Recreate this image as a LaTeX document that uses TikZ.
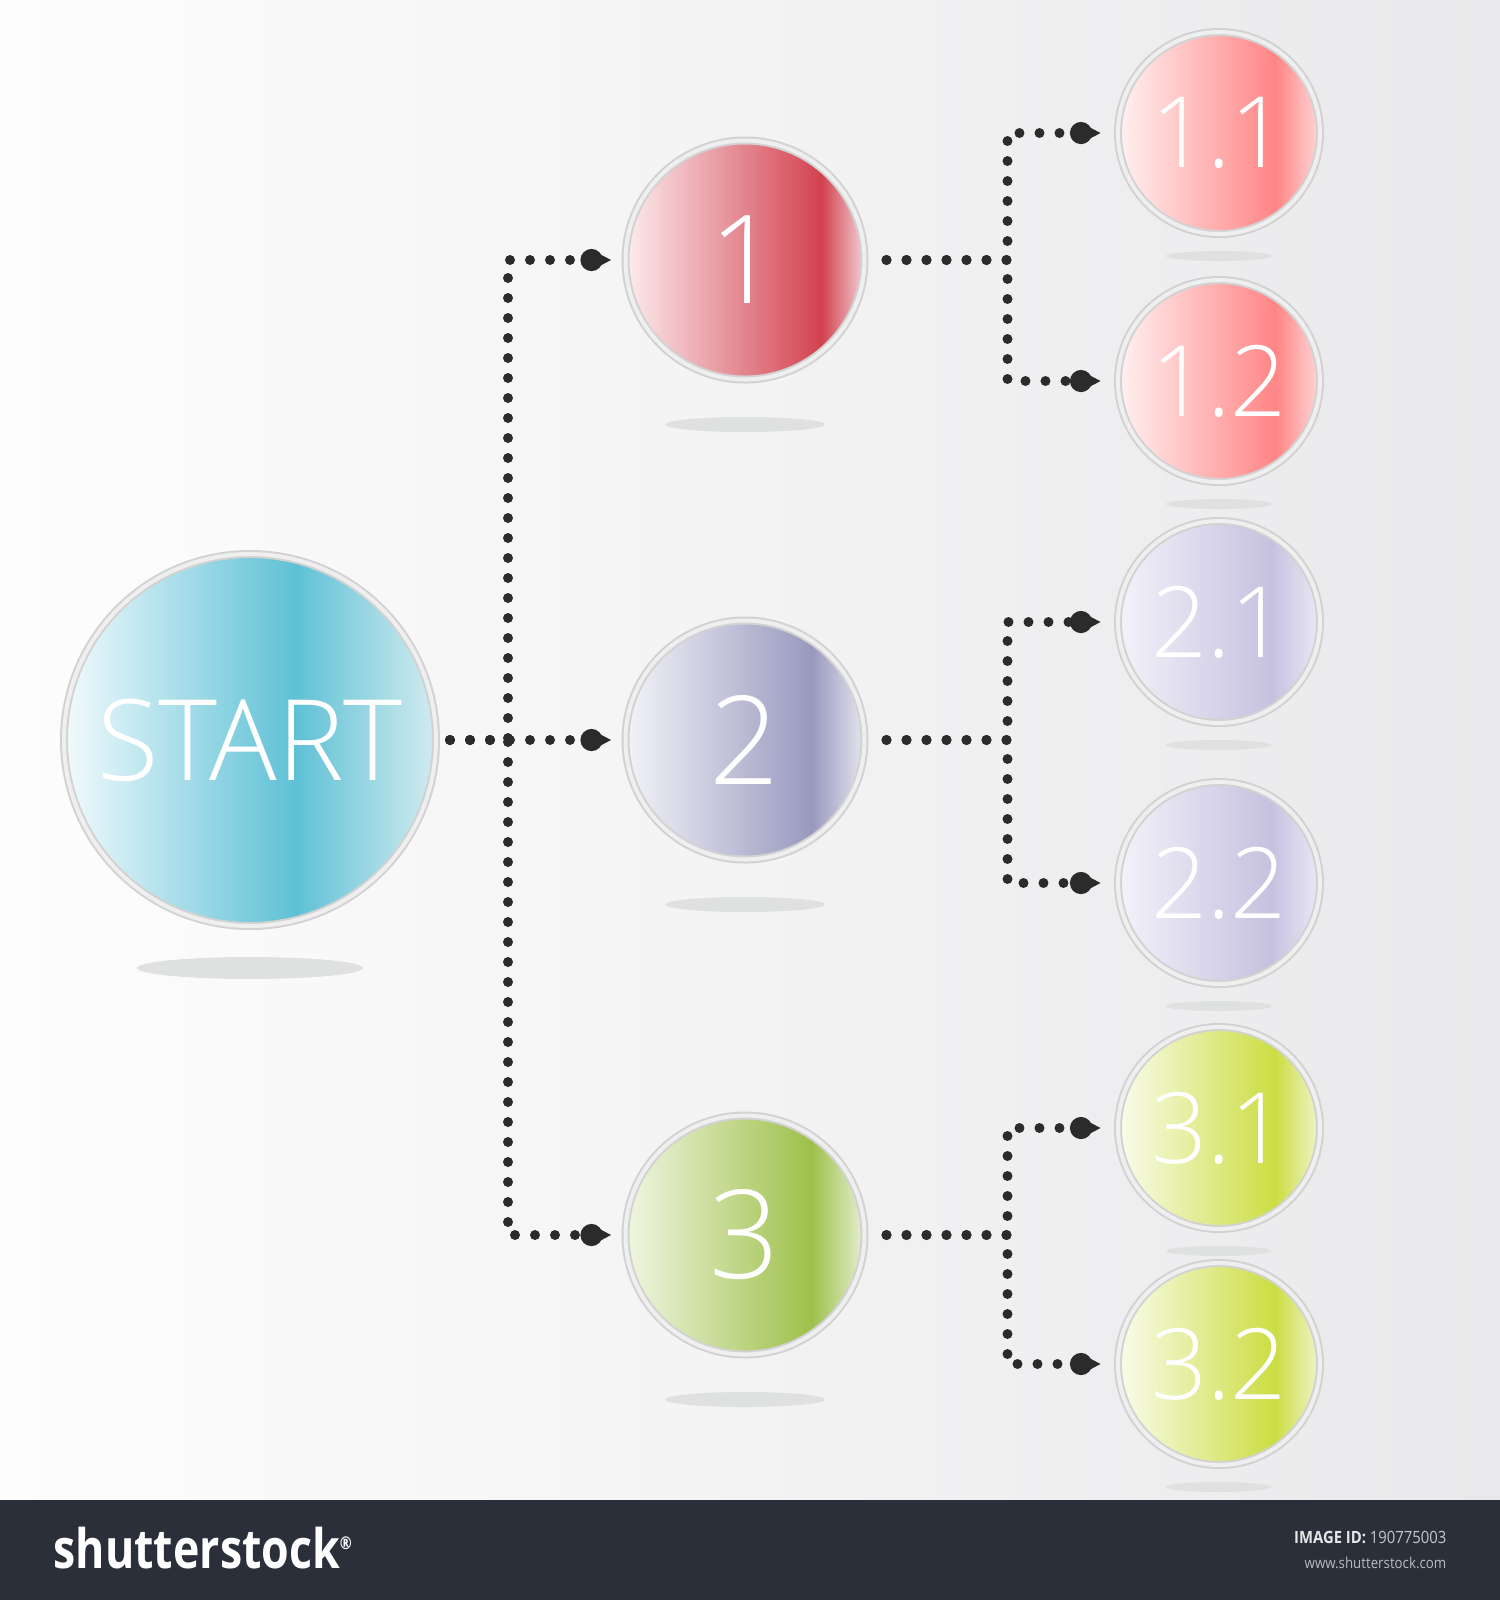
\documentclass[tikz,border=0pt]{standalone}
\usepackage{fontspec}
\setmainfont{Open Sans}
\newfontfamily\thinfont{Open Sans}[UprightFont=* Light]
\usetikzlibrary{arrows.meta}

\definecolor{bgleft}{HTML}{FDFDFD}
\definecolor{bgright}{HTML}{E9E9EB}
\definecolor{barcol}{HTML}{2A2F3A}
\definecolor{ringgray}{HTML}{D2D2D2}
\definecolor{ringlight}{HTML}{EFEFEF}
\definecolor{dotcol}{HTML}{2B2B2B}
\definecolor{shadowgray}{HTML}{DFE1E0}

% name, left, peak, right edge, peak position
\newcommand{\orbshading}[5]{%
  \definecolor{#1A}{HTML}{#2}\definecolor{#1B}{HTML}{#3}\definecolor{#1C}{HTML}{#4}%
  \pgfdeclarehorizontalshading{#1}{100bp}{color(0bp)=(#1A); color(25bp)=(#1A);
    color(#5bp)=(#1B); color(75bp)=(#1C); color(100bp)=(#1C)}}
\orbshading{startsh}{F2FAFC}{5EC1D5}{D2EBF0}{56}
\orbshading{redsh}{FCECEE}{D3414F}{F3D0D4}{66}
\orbshading{pinksh}{FFF2F2}{FF8585}{FDD8D8}{64}
\orbshading{violetsh}{F3F3F8}{9999BF}{E6E6F0}{64}
\orbshading{lilacsh}{F4F2FA}{C6C1DF}{ECE9F5}{63}
\orbshading{greensh}{F0F6E2}{9EC04A}{E6EFD2}{64}
\orbshading{limesh}{FAFCEC}{CBDD42}{F0F5CF}{64}

\begin{document}
\begin{tikzpicture}[x=0.1mm, y=0.1mm,
  orb/.style = {circle, inner sep=0pt, text=white, solid, line cap=butt, draw=ringgray,
    line width=0.2mm, double=ringlight, double distance=0.4mm},
  bigorb/.style = {orb, minimum size=37.2mm, font=\thinfont\fontsize{32}{32}\selectfont},
  midorb/.style = {orb, minimum size=23.9mm, font=\thinfont\fontsize{35}{35}\selectfont},
  leaforb/.style = {orb, minimum size=20.2mm, font=\thinfont\fontsize{28}{28}\selectfont},
  edge from parent/.style = {draw=dotcol, line width=1mm, line cap=round,
    dash pattern=on 0pt off 2mm,
    -{Circle[length=2.2mm,sep=-1.2mm] Triangle[length=2.1mm,width=2mm]}},
  level 1/.style = {level distance=49.5mm, sibling distance=48.7mm,
    edge from parent path={([xshift=1.3mm]\tikzparentnode.east) -- ++(5.8mm,0)
      |- ([xshift=-1.3mm]\tikzchildnode.west)}},
  level 2/.style = {level distance=47.4mm, sibling distance=25mm,
    edge from parent path={([xshift=2.1mm]\tikzparentnode.east) -- ++(12.1mm,0)
      |- ([xshift=-1.6mm]\tikzchildnode.west)}}]

  \fill[left color=bgleft, right color=bgright] (0,0) rectangle (1500,-1500);
  \fill[barcol] (0,-1500) rectangle (1500,-1600);

  \node[bigorb, shading=startsh] (start) at (250,-740) {START} [grow'=right]
    child[yshift=-0.7mm] { node[midorb, shading=redsh] (n1) {1}
      child[yshift=0.2mm] { node[leaforb, shading=pinksh] (n11) {1.1}}
      child[yshift=0.4mm] { node[leaforb, shading=pinksh] (n12) {1.2}}}
    child { node[midorb, shading=violetsh] (n2) {2}
      child[yshift=-0.7mm] { node[leaforb, shading=lilacsh] (n21) {2.1}}
      child[yshift=-1.8mm] { node[leaforb, shading=lilacsh] (n22) {2.2}}}
    child[yshift=-0.8mm] { node[midorb, shading=greensh] (n3) {3}
      child[yshift=-1.8mm] { node[leaforb, shading=limesh] (n31) {3.1}}
      child[yshift=-0.4mm] { node[leaforb, shading=limesh] (n32) {3.2}}};

  \fill[shadowgray] ([yshift=-4.1mm]start.south) ellipse (11.3mm and 1.1mm);
  \foreach \n in {n1,n2,n3}
    \fill[shadowgray] ([yshift=-4.4mm]\n.south) ellipse (8mm and 0.75mm);
  \foreach \n in {n11,n12,n21,n22,n31,n32}
    \fill[shadowgray] ([yshift=-2.1mm]\n.south) ellipse (5.3mm and 0.5mm);

  \node[anchor=base west, inner sep=0pt, text=white, font=\bfseries\fontsize{15.5}{15.5}\selectfont]
    (logo) at (53,-1568) {\scalebox{0.82}[1]{shutterstock\textsuperscript{\tiny\textregistered}}};
  \node[anchor=base east, inner sep=0pt, font=\fontsize{4.8}{4.8}\selectfont]
    (imgid) at (1447,-1543) {\scalebox{0.88}[1]{\textcolor[HTML]{E6E6E8}{\bfseries IMAGE ID:}
      \textcolor[HTML]{C4C6CC}{190775003}}};
  \node[anchor=base east, inner sep=0pt, text={rgb,255:red,184;green,186;blue,192},
    font=\fontsize{4.3}{4.3}\selectfont]
    (site) at (1447,-1568) {\scalebox{0.88}[1]{www.shutterstock.com}};
\end{tikzpicture}
\end{document}
